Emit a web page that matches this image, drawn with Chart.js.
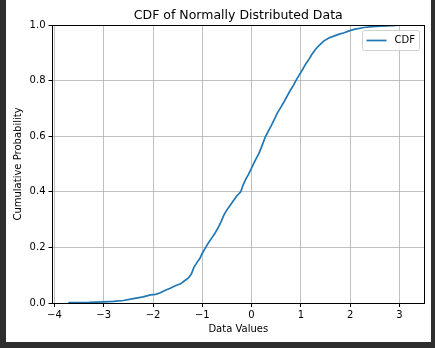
<!DOCTYPE html>
<html>
<head>
<meta charset="utf-8">
<script src="https://cdn.jsdelivr.net/npm/chart.js@4/dist/chart.umd.min.js"></script>
<style>
  html, body { margin: 0; padding: 0; background: #2e2e2e; width: 435px; height: 348px; overflow: hidden; }
  #wrap { position: absolute; left: 6px; top: 0; width: 425px; height: 342px; background: #ffffff; }
  canvas { display: block; }
</style>
</head>
<body>
<div id="wrap"><canvas id="c" width="425" height="342"></canvas></div>
<script>
const chartTitle = "CDF of Normally Distributed Data";
const xAxisLabel = "Data Values";
const yAxisLabel = "Cumulative Probability";
const seriesLabel = "CDF";

const xValues = [
  -3.72, -3.30, -3.00, -2.80, -2.60, -2.40, -2.20, -2.05, -1.95, -1.85,
  -1.75, -1.65, -1.55, -1.44, -1.36, -1.28, -1.22, -1.17, -1.10, -1.05,
  -1.00, -0.93, -0.87, -0.80, -0.74, -0.68, -0.62, -0.56, -0.50, -0.44,
  -0.38, -0.30, -0.22, -0.17, -0.12, -0.07, -0.02, 0.03, 0.08, 0.15,
  0.20, 0.28, 0.34, 0.40, 0.46, 0.52, 0.59, 0.66, 0.73, 0.79,
  0.85, 0.90, 0.96, 1.03, 1.10, 1.17, 1.22, 1.28, 1.34, 1.41, 1.47,
  1.57, 1.67, 1.78, 1.88, 1.98, 2.08, 2.28, 2.45, 2.62, 2.85, 3.05
];
const cdfValues = [
  0.001, 0.002, 0.004, 0.006, 0.009, 0.016, 0.022, 0.029, 0.031, 0.037,
  0.046, 0.053, 0.062, 0.069, 0.080, 0.090, 0.105, 0.128, 0.148, 0.160,
  0.179, 0.200, 0.218, 0.236, 0.252, 0.270, 0.292, 0.317, 0.335, 0.350,
  0.365, 0.385, 0.400, 0.425, 0.445, 0.460, 0.478, 0.497, 0.515, 0.538,
  0.560, 0.598, 0.618, 0.638, 0.660, 0.682, 0.703, 0.724, 0.747, 0.766,
  0.783, 0.800, 0.818, 0.838, 0.860, 0.878, 0.893, 0.908, 0.921, 0.933, 0.943,
  0.953, 0.960, 0.967, 0.972, 0.979, 0.984, 0.991, 0.994, 0.996, 0.998, 1.000
];
const xTicks = [-4, -3, -2, -1, 0, 1, 2, 3];
const yTicks = [0.0, 0.2, 0.4, 0.6, 0.8, 1.0];
const xRange = [-4.04, 3.5];
const yRange = [0, 1];

const FONT = "'DejaVu Sans', 'Liberation Sans', sans-serif";
const LINE_COLOR = '#1f77b4';

const points = xValues.map((x, i) => ({ x: x, y: cdfValues[i] }));

const framePlugin = {
  id: 'frame',
  afterDatasetsDraw(chart) {
    const a = chart.chartArea, ctx = chart.ctx;
    const l = Math.floor(a.left) + 0.5, t = Math.floor(a.top) + 0.5;
    const r = Math.floor(a.right) + 0.5, b = Math.floor(a.bottom) + 0.5;
    ctx.save();
    ctx.strokeStyle = '#000';
    ctx.lineWidth = 1;
    ctx.strokeRect(l, t, r - l, b - t);
    ctx.restore();
  }
};

const legendPlugin = {
  id: 'mplLegend',
  afterDraw(chart) {
    const ctx = chart.ctx, a = chart.chartArea;
    const ds = chart.data.datasets[0];
    ctx.save();
    ctx.font = '10px ' + FONT;
    const tw = ctx.measureText(ds.label).width;
    const pad = 4, handle = 20, gap = 8, h = 20;
    const w = pad + handle + gap + tw + pad + 1;
    const right = Math.floor(a.right) - 5 + 0.5, top = Math.floor(a.top) + 5 + 0.5;
    const left = Math.round(right - w) + 0.5;
    const r = 2;
    ctx.beginPath();
    ctx.moveTo(left + r, top);
    ctx.lineTo(right - r, top);
    ctx.quadraticCurveTo(right, top, right, top + r);
    ctx.lineTo(right, top + h - r);
    ctx.quadraticCurveTo(right, top + h, right - r, top + h);
    ctx.lineTo(left + r, top + h);
    ctx.quadraticCurveTo(left, top + h, left, top + h - r);
    ctx.lineTo(left, top + r);
    ctx.quadraticCurveTo(left, top, left + r, top);
    ctx.closePath();
    ctx.fillStyle = 'rgba(255,255,255,0.8)';
    ctx.fill();
    ctx.strokeStyle = '#d0d0d0';
    ctx.lineWidth = 1;
    ctx.stroke();
    const cy = top + h / 2;
    ctx.strokeStyle = ds.borderColor;
    ctx.lineWidth = ds.borderWidth;
    ctx.beginPath();
    ctx.moveTo(left + pad, cy);
    ctx.lineTo(left + pad + handle, cy);
    ctx.stroke();
    ctx.fillStyle = '#000';
    ctx.textBaseline = 'middle';
    ctx.textAlign = 'left';
    ctx.fillText(ds.label, left + pad + handle + gap, cy);
    ctx.restore();
  }
};

const fmtMinus = s => String(s).replace('-', '\u2212');

new Chart(document.getElementById('c'), {
  type: 'line',
  data: {
    datasets: [{
      label: seriesLabel,
      data: points,
      borderColor: LINE_COLOR,
      backgroundColor: LINE_COLOR,
      borderWidth: 1.7,
      pointRadius: 0,
      tension: 0,
      fill: false
    }]
  },
  options: {
    responsive: false,
    devicePixelRatio: 1,
    animation: false,
    layout: { padding: { left: 0, right: 7, top: 0, bottom: 0 } },
    plugins: {
      legend: { display: false },
      tooltip: { enabled: false },
      title: {
        display: true,
        text: chartTitle,
        fullSize: false,
        color: '#000',
        font: { family: FONT, size: 12.5, weight: 'normal', lineHeight: 1.2 },
        padding: { top: 8, bottom: 2 }
      }
    },
    scales: {
      x: {
        type: 'linear',
        min: xRange[0],
        max: xRange[1],
        afterFit(scale) { scale.height = 39; },
        afterBuildTicks(scale) { scale.ticks = xTicks.map(v => ({ value: v })); },
        grid: { color: '#b0b0b0', lineWidth: 0.8, drawTicks: true, tickLength: 4, tickColor: '#000', tickWidth: 1 },
        border: { display: false },
        ticks: {
          color: '#000',
          padding: 2,
          maxRotation: 0,
          autoSkip: false,
          font: { family: FONT, size: 10 },
          callback: v => fmtMinus(v)
        },
        title: {
          display: true,
          text: xAxisLabel,
          color: '#000',
          font: { family: FONT, size: 10 },
          padding: { top: 0, bottom: 7 }
        }
      },
      y: {
        type: 'linear',
        min: yRange[0],
        max: yRange[1],
        afterFit(scale) { scale.width = 46.5; },
        afterBuildTicks(scale) { scale.ticks = yTicks.map(v => ({ value: v })); },
        grid: { color: '#b0b0b0', lineWidth: 0.8, drawTicks: true, tickLength: 4, tickColor: '#000', tickWidth: 1 },
        border: { display: false },
        ticks: {
          color: '#000',
          padding: 3,
          autoSkip: false,
          font: { family: FONT, size: 10 },
          callback: v => Number(v).toFixed(1)
        },
        title: {
          display: true,
          text: yAxisLabel,
          color: '#000',
          font: { family: FONT, size: 10 },
          padding: { top: 6, bottom: 0 }
        }
      }
    }
  },
  plugins: [framePlugin, legendPlugin]
});
</script>
</body>
</html>
